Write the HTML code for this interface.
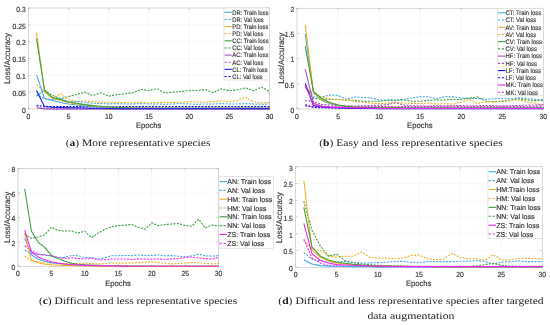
<!DOCTYPE html>
<html><head><meta charset="utf-8"><title>Loss curves</title>
<style>html,body{margin:0;padding:0;background:#fff;width:550px;height:325px;overflow:hidden}svg{display:block;position:absolute;left:0;top:0}.wrap{position:relative;width:550px;height:325px}svg.g{filter:blur(0.3px)}svg.t{filter:blur(0.15px)}</style>
</head><body>
<div class="wrap">
<svg class="g" width="550" height="325" viewBox="0 0 550 325" text-rendering="geometricPrecision" font-family='"Liberation Sans", sans-serif'>
<rect width="550" height="325" fill="#fff"/>
<style>text{stroke:#333333;stroke-width:0.16px}</style>
<line x1="68.67" y1="8.00" x2="68.67" y2="109.00" stroke="#f3f3f3" stroke-width="0.6"/>
<line x1="108.83" y1="8.00" x2="108.83" y2="109.00" stroke="#f3f3f3" stroke-width="0.6"/>
<line x1="149.00" y1="8.00" x2="149.00" y2="109.00" stroke="#f3f3f3" stroke-width="0.6"/>
<line x1="189.17" y1="8.00" x2="189.17" y2="109.00" stroke="#f3f3f3" stroke-width="0.6"/>
<line x1="229.33" y1="8.00" x2="229.33" y2="109.00" stroke="#f3f3f3" stroke-width="0.6"/>
<line x1="28.50" y1="92.17" x2="269.50" y2="92.17" stroke="#f3f3f3" stroke-width="0.6"/>
<line x1="28.50" y1="75.33" x2="269.50" y2="75.33" stroke="#f3f3f3" stroke-width="0.6"/>
<line x1="28.50" y1="58.50" x2="269.50" y2="58.50" stroke="#f3f3f3" stroke-width="0.6"/>
<line x1="28.50" y1="41.67" x2="269.50" y2="41.67" stroke="#f3f3f3" stroke-width="0.6"/>
<line x1="28.50" y1="24.83" x2="269.50" y2="24.83" stroke="#f3f3f3" stroke-width="0.6"/>
<rect x="28.50" y="8.00" width="241.00" height="101.00" fill="none" stroke="#c8c8c8" stroke-width="0.7"/>
<line x1="28.50" y1="109.00" x2="28.50" y2="106.80" stroke="#aaa" stroke-width="0.5"/>
<line x1="28.50" y1="8.00" x2="28.50" y2="10.20" stroke="#aaa" stroke-width="0.5"/>
<line x1="68.67" y1="109.00" x2="68.67" y2="106.80" stroke="#aaa" stroke-width="0.5"/>
<line x1="68.67" y1="8.00" x2="68.67" y2="10.20" stroke="#aaa" stroke-width="0.5"/>
<line x1="108.83" y1="109.00" x2="108.83" y2="106.80" stroke="#aaa" stroke-width="0.5"/>
<line x1="108.83" y1="8.00" x2="108.83" y2="10.20" stroke="#aaa" stroke-width="0.5"/>
<line x1="149.00" y1="109.00" x2="149.00" y2="106.80" stroke="#aaa" stroke-width="0.5"/>
<line x1="149.00" y1="8.00" x2="149.00" y2="10.20" stroke="#aaa" stroke-width="0.5"/>
<line x1="189.17" y1="109.00" x2="189.17" y2="106.80" stroke="#aaa" stroke-width="0.5"/>
<line x1="189.17" y1="8.00" x2="189.17" y2="10.20" stroke="#aaa" stroke-width="0.5"/>
<line x1="229.33" y1="109.00" x2="229.33" y2="106.80" stroke="#aaa" stroke-width="0.5"/>
<line x1="229.33" y1="8.00" x2="229.33" y2="10.20" stroke="#aaa" stroke-width="0.5"/>
<line x1="269.50" y1="109.00" x2="269.50" y2="106.80" stroke="#aaa" stroke-width="0.5"/>
<line x1="269.50" y1="8.00" x2="269.50" y2="10.20" stroke="#aaa" stroke-width="0.5"/>
<line x1="28.50" y1="109.00" x2="30.70" y2="109.00" stroke="#aaa" stroke-width="0.5"/>
<line x1="269.50" y1="109.00" x2="267.30" y2="109.00" stroke="#aaa" stroke-width="0.5"/>
<line x1="28.50" y1="92.17" x2="30.70" y2="92.17" stroke="#aaa" stroke-width="0.5"/>
<line x1="269.50" y1="92.17" x2="267.30" y2="92.17" stroke="#aaa" stroke-width="0.5"/>
<line x1="28.50" y1="75.33" x2="30.70" y2="75.33" stroke="#aaa" stroke-width="0.5"/>
<line x1="269.50" y1="75.33" x2="267.30" y2="75.33" stroke="#aaa" stroke-width="0.5"/>
<line x1="28.50" y1="58.50" x2="30.70" y2="58.50" stroke="#aaa" stroke-width="0.5"/>
<line x1="269.50" y1="58.50" x2="267.30" y2="58.50" stroke="#aaa" stroke-width="0.5"/>
<line x1="28.50" y1="41.67" x2="30.70" y2="41.67" stroke="#aaa" stroke-width="0.5"/>
<line x1="269.50" y1="41.67" x2="267.30" y2="41.67" stroke="#aaa" stroke-width="0.5"/>
<line x1="28.50" y1="24.83" x2="30.70" y2="24.83" stroke="#aaa" stroke-width="0.5"/>
<line x1="269.50" y1="24.83" x2="267.30" y2="24.83" stroke="#aaa" stroke-width="0.5"/>
<line x1="28.50" y1="8.00" x2="30.70" y2="8.00" stroke="#aaa" stroke-width="0.5"/>
<line x1="269.50" y1="8.00" x2="267.30" y2="8.00" stroke="#aaa" stroke-width="0.5"/>
<polyline points="36.53,96.21 44.57,90.15 52.60,95.53 60.63,98.56 68.67,96.54 76.70,94.52 84.73,92.17 92.77,95.53 100.80,92.84 108.83,96.21 116.87,94.52 124.90,93.85 132.93,92.84 140.97,89.47 149.00,90.48 157.03,88.80 165.07,93.18 173.10,92.17 181.13,91.49 189.17,90.48 197.20,90.48 205.23,89.47 213.27,92.84 221.30,88.80 229.33,90.82 237.37,89.81 245.40,87.79 253.43,90.82 261.47,87.12 269.50,91.49" fill="none" stroke="#3A9E3A" stroke-width="1.1" stroke-dasharray="2,1.3" stroke-linejoin="round"/>
<polyline points="36.53,84.42 44.57,92.17 52.60,97.89 60.63,93.85 68.67,99.57 76.70,101.59 84.73,100.92 92.77,101.59 100.80,102.27 108.83,102.94 116.87,102.27 124.90,102.60 132.93,102.94 140.97,102.27 149.00,102.94 157.03,102.60 165.07,102.27 173.10,102.60 181.13,102.27 189.17,101.59 197.20,101.93 205.23,102.27 213.27,101.59 221.30,100.92 229.33,101.59 237.37,100.58 245.40,97.22 253.43,101.59 261.47,102.94 269.50,102.27" fill="none" stroke="#EDB120" stroke-width="1.1" stroke-dasharray="2,1.3" stroke-linejoin="round"/>
<polyline points="36.53,93.85 44.57,98.90 52.60,99.57 60.63,98.56 68.67,101.59 76.70,101.59 84.73,102.27 92.77,103.28 100.80,103.61 108.83,103.95 116.87,103.61 124.90,103.95 132.93,103.95 140.97,103.61 149.00,103.95 157.03,103.95 165.07,104.29 173.10,103.95 181.13,103.61 189.17,103.95 197.20,104.29 205.23,103.95 213.27,103.95 221.30,103.61 229.33,103.95 237.37,103.95 245.40,103.61 253.43,103.95 261.47,104.29 269.50,103.95" fill="none" stroke="#3FA9E6" stroke-width="1.1" stroke-dasharray="2,1.3" stroke-linejoin="round"/>
<polyline points="36.53,105.30 44.57,106.41 52.60,106.47 60.63,106.58 68.67,106.64 76.70,106.64 84.73,106.64 92.77,106.64 100.80,106.64 108.83,106.64 116.87,106.64 124.90,106.64 132.93,106.64 140.97,106.64 149.00,106.64 157.03,106.64 165.07,106.64 173.10,106.64 181.13,106.64 189.17,106.64 197.20,106.64 205.23,106.64 213.27,106.64 221.30,106.64 229.33,106.64 237.37,106.64 245.40,106.64 253.43,106.64 261.47,106.64 269.50,106.64" fill="none" stroke="#1010F0" stroke-width="1.1" stroke-dasharray="2,1.3" stroke-linejoin="round"/>
<polyline points="36.53,106.81 44.57,108.66 52.60,108.90 60.63,108.90 68.67,108.90 76.70,108.90 84.73,108.90 92.77,108.90 100.80,108.90 108.83,108.90 116.87,108.90 124.90,108.90 132.93,108.90 140.97,108.90 149.00,108.90 157.03,108.90 165.07,108.90 173.10,108.90 181.13,108.90 189.17,108.90 197.20,108.90 205.23,108.90 213.27,108.90 221.30,108.90 229.33,108.90 237.37,108.90 245.40,108.90 253.43,108.90 261.47,108.90 269.50,108.90" fill="none" stroke="#A24FB8" stroke-width="1.1" stroke-dasharray="2,1.3" stroke-linejoin="round"/>
<polyline points="36.53,74.79 44.57,98.56 52.60,100.58 60.63,102.60 68.67,103.95 76.70,104.96 84.73,105.97 92.77,106.64 100.80,106.98 108.83,107.32 116.87,107.65 124.90,107.99 132.93,108.16 140.97,108.33 149.00,108.33 157.03,108.33 165.07,108.33 173.10,108.33 181.13,108.33 189.17,108.33 197.20,108.33 205.23,108.33 213.27,108.33 221.30,108.33 229.33,108.33 237.37,108.33 245.40,108.33 253.43,108.33 261.47,108.33 269.50,108.33" fill="none" stroke="#3FA9E6" stroke-width="1.05" stroke-linejoin="round"/>
<polyline points="36.53,32.58 44.57,91.49 52.60,98.56 60.63,100.58 68.67,102.60 76.70,103.95 84.73,104.96 92.77,105.97 100.80,106.64 108.83,106.98 116.87,107.32 124.90,107.65 132.93,107.99 140.97,108.16 149.00,108.33 157.03,108.33 165.07,108.33 173.10,108.33 181.13,108.33 189.17,108.33 197.20,108.33 205.23,108.33 213.27,108.33 221.30,108.33 229.33,108.33 237.37,108.33 245.40,108.33 253.43,108.33 261.47,108.33 269.50,108.33" fill="none" stroke="#EDB120" stroke-width="1.05" stroke-linejoin="round"/>
<polyline points="36.53,38.64 44.57,90.48 52.60,97.55 60.63,99.57 68.67,101.93 76.70,103.28 84.73,104.62 92.77,105.63 100.80,106.31 108.83,106.98 116.87,107.32 124.90,107.65 132.93,107.99 140.97,107.99 149.00,108.16 157.03,108.33 165.07,108.33 173.10,108.33 181.13,108.33 189.17,108.33 197.20,108.33 205.23,108.33 213.27,108.33 221.30,108.33 229.33,108.33 237.37,108.33 245.40,108.33 253.43,108.33 261.47,108.33 269.50,108.33" fill="none" stroke="#3A9E3A" stroke-width="1.05" stroke-linejoin="round"/>
<polyline points="36.53,107.65 44.57,108.90 52.60,108.93 60.63,108.93 68.67,108.93 76.70,108.93 84.73,108.93 92.77,108.93 100.80,108.93 108.83,108.93 116.87,108.93 124.90,108.93 132.93,108.93 140.97,108.93 149.00,108.93 157.03,108.93 165.07,108.93 173.10,108.93 181.13,108.93 189.17,108.93 197.20,108.93 205.23,108.93 213.27,108.93 221.30,108.93 229.33,108.93 237.37,108.93 245.40,108.93 253.43,108.93 261.47,108.93 269.50,108.93" fill="none" stroke="#A24FB8" stroke-width="1.05" stroke-linejoin="round"/>
<polyline points="36.53,90.48 44.57,106.81 52.60,107.32 60.63,107.48 68.67,107.65 76.70,107.82 84.73,107.99 92.77,108.16 100.80,108.33 108.83,108.50 116.87,108.66 124.90,108.66 132.93,108.66 140.97,108.66 149.00,108.66 157.03,108.66 165.07,108.66 173.10,108.66 181.13,108.66 189.17,108.66 197.20,108.66 205.23,108.66 213.27,108.66 221.30,108.66 229.33,108.66 237.37,108.66 245.40,108.66 253.43,108.66 261.47,108.66 269.50,108.66" fill="none" stroke="#1010F0" stroke-width="1.05" stroke-linejoin="round"/>
<rect x="224.00" y="8.00" width="45.50" height="72.00" fill="#fff" stroke="#d4d4d4" stroke-width="0.6"/>
<line x1="224.60" y1="12.30" x2="231.80" y2="12.30" stroke="#3FA9E6" stroke-width="1.1"/>
<line x1="224.60" y1="19.43" x2="231.80" y2="19.43" stroke="#3FA9E6" stroke-width="1.1" stroke-dasharray="2.2,1.6"/>
<line x1="224.60" y1="26.56" x2="231.80" y2="26.56" stroke="#EDB120" stroke-width="1.1"/>
<line x1="224.60" y1="33.69" x2="231.80" y2="33.69" stroke="#EDB120" stroke-width="1.1" stroke-dasharray="2.2,1.6"/>
<line x1="224.60" y1="40.82" x2="231.80" y2="40.82" stroke="#3A9E3A" stroke-width="1.1"/>
<line x1="224.60" y1="47.95" x2="231.80" y2="47.95" stroke="#3A9E3A" stroke-width="1.1" stroke-dasharray="2.2,1.6"/>
<line x1="224.60" y1="55.08" x2="231.80" y2="55.08" stroke="#A24FB8" stroke-width="1.1"/>
<line x1="224.60" y1="62.21" x2="231.80" y2="62.21" stroke="#A24FB8" stroke-width="1.1" stroke-dasharray="2.2,1.6"/>
<line x1="224.60" y1="69.34" x2="231.80" y2="69.34" stroke="#1010F0" stroke-width="1.1"/>
<line x1="224.60" y1="76.47" x2="231.80" y2="76.47" stroke="#1010F0" stroke-width="1.1" stroke-dasharray="2.2,1.6"/>
<line x1="338.05" y1="8.30" x2="338.05" y2="109.00" stroke="#f3f3f3" stroke-width="0.6"/>
<line x1="379.10" y1="8.30" x2="379.10" y2="109.00" stroke="#f3f3f3" stroke-width="0.6"/>
<line x1="420.15" y1="8.30" x2="420.15" y2="109.00" stroke="#f3f3f3" stroke-width="0.6"/>
<line x1="461.20" y1="8.30" x2="461.20" y2="109.00" stroke="#f3f3f3" stroke-width="0.6"/>
<line x1="502.25" y1="8.30" x2="502.25" y2="109.00" stroke="#f3f3f3" stroke-width="0.6"/>
<line x1="297.00" y1="83.83" x2="543.30" y2="83.83" stroke="#f3f3f3" stroke-width="0.6"/>
<line x1="297.00" y1="58.65" x2="543.30" y2="58.65" stroke="#f3f3f3" stroke-width="0.6"/>
<line x1="297.00" y1="33.47" x2="543.30" y2="33.47" stroke="#f3f3f3" stroke-width="0.6"/>
<rect x="297.00" y="8.30" width="246.30" height="100.70" fill="none" stroke="#c8c8c8" stroke-width="0.7"/>
<line x1="297.00" y1="109.00" x2="297.00" y2="106.80" stroke="#aaa" stroke-width="0.5"/>
<line x1="297.00" y1="8.30" x2="297.00" y2="10.50" stroke="#aaa" stroke-width="0.5"/>
<line x1="338.05" y1="109.00" x2="338.05" y2="106.80" stroke="#aaa" stroke-width="0.5"/>
<line x1="338.05" y1="8.30" x2="338.05" y2="10.50" stroke="#aaa" stroke-width="0.5"/>
<line x1="379.10" y1="109.00" x2="379.10" y2="106.80" stroke="#aaa" stroke-width="0.5"/>
<line x1="379.10" y1="8.30" x2="379.10" y2="10.50" stroke="#aaa" stroke-width="0.5"/>
<line x1="420.15" y1="109.00" x2="420.15" y2="106.80" stroke="#aaa" stroke-width="0.5"/>
<line x1="420.15" y1="8.30" x2="420.15" y2="10.50" stroke="#aaa" stroke-width="0.5"/>
<line x1="461.20" y1="109.00" x2="461.20" y2="106.80" stroke="#aaa" stroke-width="0.5"/>
<line x1="461.20" y1="8.30" x2="461.20" y2="10.50" stroke="#aaa" stroke-width="0.5"/>
<line x1="502.25" y1="109.00" x2="502.25" y2="106.80" stroke="#aaa" stroke-width="0.5"/>
<line x1="502.25" y1="8.30" x2="502.25" y2="10.50" stroke="#aaa" stroke-width="0.5"/>
<line x1="543.30" y1="109.00" x2="543.30" y2="106.80" stroke="#aaa" stroke-width="0.5"/>
<line x1="543.30" y1="8.30" x2="543.30" y2="10.50" stroke="#aaa" stroke-width="0.5"/>
<line x1="297.00" y1="109.00" x2="299.20" y2="109.00" stroke="#aaa" stroke-width="0.5"/>
<line x1="543.30" y1="109.00" x2="541.10" y2="109.00" stroke="#aaa" stroke-width="0.5"/>
<line x1="297.00" y1="83.83" x2="299.20" y2="83.83" stroke="#aaa" stroke-width="0.5"/>
<line x1="543.30" y1="83.83" x2="541.10" y2="83.83" stroke="#aaa" stroke-width="0.5"/>
<line x1="297.00" y1="58.65" x2="299.20" y2="58.65" stroke="#aaa" stroke-width="0.5"/>
<line x1="543.30" y1="58.65" x2="541.10" y2="58.65" stroke="#aaa" stroke-width="0.5"/>
<line x1="297.00" y1="33.47" x2="299.20" y2="33.47" stroke="#aaa" stroke-width="0.5"/>
<line x1="543.30" y1="33.47" x2="541.10" y2="33.47" stroke="#aaa" stroke-width="0.5"/>
<line x1="297.00" y1="8.30" x2="299.20" y2="8.30" stroke="#aaa" stroke-width="0.5"/>
<line x1="543.30" y1="8.30" x2="541.10" y2="8.30" stroke="#aaa" stroke-width="0.5"/>
<polyline points="305.21,85.84 313.42,96.92 321.63,97.17 329.84,95.00 338.05,95.41 346.26,99.33 354.47,96.92 362.68,97.42 370.89,97.92 379.10,99.94 387.31,99.94 395.52,100.29 403.73,99.43 411.94,97.92 420.15,96.66 428.36,96.92 436.57,98.93 444.78,96.41 452.99,96.92 461.20,97.92 469.41,98.73 477.62,98.43 485.83,99.43 494.04,98.73 502.25,98.43 510.46,98.73 518.67,97.92 526.88,98.43 535.09,99.43 543.30,99.94" fill="none" stroke="#3FA9E6" stroke-width="1.1" stroke-dasharray="2,1.3" stroke-linejoin="round"/>
<polyline points="305.21,86.34 313.42,98.43 321.63,98.93 329.84,99.43 338.05,99.43 346.26,100.29 354.47,100.29 362.68,101.25 370.89,101.25 379.10,101.25 387.31,100.29 395.52,99.94 403.73,99.94 411.94,101.25 420.15,101.25 428.36,100.29 436.57,99.94 444.78,99.94 452.99,99.43 461.20,99.43 469.41,97.92 477.62,96.92 485.83,101.25 494.04,101.80 502.25,101.25 510.46,100.29 518.67,98.73 526.88,99.94 535.09,100.64 543.30,100.29" fill="none" stroke="#3A9E3A" stroke-width="1.1" stroke-dasharray="2,1.3" stroke-linejoin="round"/>
<polyline points="305.21,87.85 313.42,93.89 321.63,96.92 329.84,98.93 338.05,99.43 346.26,99.43 354.47,101.25 362.68,102.20 370.89,103.16 379.10,103.71 387.31,103.16 395.52,102.20 403.73,103.16 411.94,103.46 420.15,103.46 428.36,103.16 436.57,104.09 444.78,103.71 452.99,104.09 461.20,102.20 469.41,99.43 477.62,103.71 485.83,101.80 494.04,102.20 502.25,100.69 510.46,99.94 518.67,99.94 526.88,101.80 535.09,103.16 543.30,105.68" fill="none" stroke="#EDB120" stroke-width="1.1" stroke-dasharray="2,1.3" stroke-linejoin="round"/>
<polyline points="305.21,100.44 313.42,101.45 321.63,104.47 329.84,104.97 338.05,105.48 346.26,105.73 354.47,105.98 362.68,105.73 370.89,105.48 379.10,105.22 387.31,104.47 395.52,102.96 403.73,104.97 411.94,105.73 420.15,105.98 428.36,105.98 436.57,105.73 444.78,105.98 452.99,105.73 461.20,105.48 469.41,105.98 477.62,105.73 485.83,105.48 494.04,105.73 502.25,105.98 510.46,105.73 518.67,105.48 526.88,105.22 535.09,104.97 543.30,104.47" fill="none" stroke="#A24FB8" stroke-width="1.1" stroke-dasharray="2,1.3" stroke-linejoin="round"/>
<polyline points="305.21,105.98 313.42,106.48 321.63,106.73 329.84,106.48 338.05,106.48 346.26,106.73 354.47,106.48 362.68,106.48 370.89,106.73 379.10,106.48 387.31,106.48 395.52,106.73 403.73,106.48 411.94,106.73 420.15,106.48 428.36,106.48 436.57,106.73 444.78,106.48 452.99,106.23 461.20,106.48 469.41,106.73 477.62,106.48 485.83,106.48 494.04,106.73 502.25,106.48 510.46,106.23 518.67,106.48 526.88,106.73 535.09,106.48 543.30,105.98" fill="none" stroke="#F020F0" stroke-width="1.1" stroke-dasharray="2,1.3" stroke-linejoin="round"/>
<polyline points="305.21,104.72 313.42,107.49 321.63,107.74 329.84,107.89 338.05,107.99 346.26,107.99 354.47,107.99 362.68,107.99 370.89,107.99 379.10,107.99 387.31,107.99 395.52,107.99 403.73,107.99 411.94,107.99 420.15,107.99 428.36,107.99 436.57,107.99 444.78,107.99 452.99,107.99 461.20,107.99 469.41,107.99 477.62,107.99 485.83,107.99 494.04,107.99 502.25,107.99 510.46,107.99 518.67,107.99 526.88,107.99 535.09,107.99 543.30,107.99" fill="none" stroke="#1010F0" stroke-width="1.1" stroke-dasharray="2,1.3" stroke-linejoin="round"/>
<polyline points="305.21,33.98 313.42,92.38 321.63,100.44 329.84,103.46 338.05,105.48 346.26,106.48 354.47,107.09 362.68,107.49 370.89,107.69 379.10,107.84 387.31,107.99 395.52,108.09 403.73,108.19 411.94,108.24 420.15,108.24 428.36,108.24 436.57,108.24 444.78,108.24 452.99,108.24 461.20,108.24 469.41,108.24 477.62,108.24 485.83,108.24 494.04,108.24 502.25,108.24 510.46,108.24 518.67,108.24 526.88,108.24 535.09,108.24 543.30,108.24" fill="none" stroke="#3FA9E6" stroke-width="1.05" stroke-linejoin="round"/>
<polyline points="305.21,24.61 313.42,91.88 321.63,99.94 329.84,102.96 338.05,104.97 346.26,106.23 354.47,106.99 362.68,107.39 370.89,107.59 379.10,107.74 387.31,107.89 395.52,107.99 403.73,108.09 411.94,108.19 420.15,108.24 428.36,108.24 436.57,108.24 444.78,108.24 452.99,108.24 461.20,108.24 469.41,108.24 477.62,108.24 485.83,108.24 494.04,108.24 502.25,108.24 510.46,108.24 518.67,108.24 526.88,108.24 535.09,108.24 543.30,108.24" fill="none" stroke="#EDB120" stroke-width="1.05" stroke-linejoin="round"/>
<polyline points="305.21,46.06 313.42,91.38 321.63,98.43 329.84,102.45 338.05,104.97 346.26,106.23 354.47,106.99 362.68,107.34 370.89,107.54 379.10,107.69 387.31,107.79 395.52,107.89 403.73,107.99 411.94,107.99 420.15,107.99 428.36,107.99 436.57,107.99 444.78,107.99 452.99,107.99 461.20,107.99 469.41,107.99 477.62,107.99 485.83,107.99 494.04,107.99 502.25,107.99 510.46,107.99 518.67,107.99 526.88,107.99 535.09,107.99 543.30,107.99" fill="none" stroke="#3A9E3A" stroke-width="1.05" stroke-linejoin="round"/>
<polyline points="305.21,69.22 313.42,103.21 321.63,105.98 329.84,106.99 338.05,107.49 346.26,107.74 354.47,107.99 362.68,108.09 370.89,108.24 379.10,108.40 387.31,108.50 395.52,108.50 403.73,108.50 411.94,108.50 420.15,108.50 428.36,108.50 436.57,108.50 444.78,108.50 452.99,108.50 461.20,108.50 469.41,108.50 477.62,108.50 485.83,108.50 494.04,108.50 502.25,108.50 510.46,108.50 518.67,108.50 526.88,108.50 535.09,108.50 543.30,108.50" fill="none" stroke="#A24FB8" stroke-width="1.05" stroke-linejoin="round"/>
<polyline points="305.21,83.32 313.42,105.48 321.63,106.99 329.84,107.49 338.05,107.99 346.26,108.24 354.47,108.40 362.68,108.50 370.89,108.60 379.10,108.70 387.31,108.75 395.52,108.75 403.73,108.75 411.94,108.75 420.15,108.75 428.36,108.75 436.57,108.75 444.78,108.75 452.99,108.75 461.20,108.75 469.41,108.75 477.62,108.75 485.83,108.75 494.04,108.75 502.25,108.75 510.46,108.75 518.67,108.75 526.88,108.75 535.09,108.75 543.30,108.75" fill="none" stroke="#1010F0" stroke-width="1.05" stroke-linejoin="round"/>
<polyline points="305.21,85.34 313.42,104.72 321.63,106.73 329.84,107.24 338.05,107.49 346.26,107.74 354.47,107.99 362.68,108.09 370.89,108.24 379.10,108.40 387.31,108.50 395.52,108.50 403.73,108.50 411.94,108.50 420.15,108.50 428.36,108.50 436.57,108.50 444.78,108.50 452.99,108.50 461.20,108.50 469.41,108.50 477.62,108.50 485.83,108.50 494.04,108.50 502.25,108.50 510.46,108.50 518.67,108.50 526.88,108.50 535.09,108.50 543.30,108.50" fill="none" stroke="#F020F0" stroke-width="1.05" stroke-linejoin="round"/>
<rect x="497.50" y="8.30" width="45.80" height="86.80" fill="#fff" stroke="#d4d4d4" stroke-width="0.6"/>
<line x1="498.00" y1="12.80" x2="505.40" y2="12.80" stroke="#3FA9E6" stroke-width="1.1"/>
<line x1="498.00" y1="20.02" x2="505.40" y2="20.02" stroke="#3FA9E6" stroke-width="1.1" stroke-dasharray="2.2,1.6"/>
<line x1="498.00" y1="27.24" x2="505.40" y2="27.24" stroke="#EDB120" stroke-width="1.1"/>
<line x1="498.00" y1="34.46" x2="505.40" y2="34.46" stroke="#EDB120" stroke-width="1.1" stroke-dasharray="2.2,1.6"/>
<line x1="498.00" y1="41.68" x2="505.40" y2="41.68" stroke="#3A9E3A" stroke-width="1.1"/>
<line x1="498.00" y1="48.90" x2="505.40" y2="48.90" stroke="#3A9E3A" stroke-width="1.1" stroke-dasharray="2.2,1.6"/>
<line x1="498.00" y1="56.12" x2="505.40" y2="56.12" stroke="#A24FB8" stroke-width="1.1"/>
<line x1="498.00" y1="63.34" x2="505.40" y2="63.34" stroke="#A24FB8" stroke-width="1.1" stroke-dasharray="2.2,1.6"/>
<line x1="498.00" y1="70.56" x2="505.40" y2="70.56" stroke="#1010F0" stroke-width="1.1"/>
<line x1="498.00" y1="77.78" x2="505.40" y2="77.78" stroke="#1010F0" stroke-width="1.1" stroke-dasharray="2.2,1.6"/>
<line x1="498.00" y1="85.00" x2="505.40" y2="85.00" stroke="#F020F0" stroke-width="1.1"/>
<line x1="498.00" y1="92.22" x2="505.40" y2="92.22" stroke="#F020F0" stroke-width="1.1" stroke-dasharray="2.2,1.6"/>
<line x1="51.43" y1="168.50" x2="51.43" y2="266.60" stroke="#f3f3f3" stroke-width="0.6"/>
<line x1="84.87" y1="168.50" x2="84.87" y2="266.60" stroke="#f3f3f3" stroke-width="0.6"/>
<line x1="118.30" y1="168.50" x2="118.30" y2="266.60" stroke="#f3f3f3" stroke-width="0.6"/>
<line x1="151.73" y1="168.50" x2="151.73" y2="266.60" stroke="#f3f3f3" stroke-width="0.6"/>
<line x1="185.17" y1="168.50" x2="185.17" y2="266.60" stroke="#f3f3f3" stroke-width="0.6"/>
<line x1="18.00" y1="242.08" x2="218.60" y2="242.08" stroke="#f3f3f3" stroke-width="0.6"/>
<line x1="18.00" y1="217.55" x2="218.60" y2="217.55" stroke="#f3f3f3" stroke-width="0.6"/>
<line x1="18.00" y1="193.03" x2="218.60" y2="193.03" stroke="#f3f3f3" stroke-width="0.6"/>
<rect x="18.00" y="168.50" width="200.60" height="98.10" fill="none" stroke="#c8c8c8" stroke-width="0.7"/>
<line x1="18.00" y1="266.60" x2="18.00" y2="264.40" stroke="#aaa" stroke-width="0.5"/>
<line x1="18.00" y1="168.50" x2="18.00" y2="170.70" stroke="#aaa" stroke-width="0.5"/>
<line x1="51.43" y1="266.60" x2="51.43" y2="264.40" stroke="#aaa" stroke-width="0.5"/>
<line x1="51.43" y1="168.50" x2="51.43" y2="170.70" stroke="#aaa" stroke-width="0.5"/>
<line x1="84.87" y1="266.60" x2="84.87" y2="264.40" stroke="#aaa" stroke-width="0.5"/>
<line x1="84.87" y1="168.50" x2="84.87" y2="170.70" stroke="#aaa" stroke-width="0.5"/>
<line x1="118.30" y1="266.60" x2="118.30" y2="264.40" stroke="#aaa" stroke-width="0.5"/>
<line x1="118.30" y1="168.50" x2="118.30" y2="170.70" stroke="#aaa" stroke-width="0.5"/>
<line x1="151.73" y1="266.60" x2="151.73" y2="264.40" stroke="#aaa" stroke-width="0.5"/>
<line x1="151.73" y1="168.50" x2="151.73" y2="170.70" stroke="#aaa" stroke-width="0.5"/>
<line x1="185.17" y1="266.60" x2="185.17" y2="264.40" stroke="#aaa" stroke-width="0.5"/>
<line x1="185.17" y1="168.50" x2="185.17" y2="170.70" stroke="#aaa" stroke-width="0.5"/>
<line x1="218.60" y1="266.60" x2="218.60" y2="264.40" stroke="#aaa" stroke-width="0.5"/>
<line x1="218.60" y1="168.50" x2="218.60" y2="170.70" stroke="#aaa" stroke-width="0.5"/>
<line x1="18.00" y1="266.60" x2="20.20" y2="266.60" stroke="#aaa" stroke-width="0.5"/>
<line x1="218.60" y1="266.60" x2="216.40" y2="266.60" stroke="#aaa" stroke-width="0.5"/>
<line x1="18.00" y1="242.08" x2="20.20" y2="242.08" stroke="#aaa" stroke-width="0.5"/>
<line x1="218.60" y1="242.08" x2="216.40" y2="242.08" stroke="#aaa" stroke-width="0.5"/>
<line x1="18.00" y1="217.55" x2="20.20" y2="217.55" stroke="#aaa" stroke-width="0.5"/>
<line x1="218.60" y1="217.55" x2="216.40" y2="217.55" stroke="#aaa" stroke-width="0.5"/>
<line x1="18.00" y1="193.03" x2="20.20" y2="193.03" stroke="#aaa" stroke-width="0.5"/>
<line x1="218.60" y1="193.03" x2="216.40" y2="193.03" stroke="#aaa" stroke-width="0.5"/>
<line x1="18.00" y1="168.50" x2="20.20" y2="168.50" stroke="#aaa" stroke-width="0.5"/>
<line x1="218.60" y1="168.50" x2="216.40" y2="168.50" stroke="#aaa" stroke-width="0.5"/>
<polyline points="24.69,233.98 31.37,238.40 38.06,237.05 44.75,234.72 51.43,227.36 58.12,230.30 64.81,231.04 71.49,230.92 78.18,232.88 84.87,231.28 91.55,237.78 98.24,233.12 104.93,229.32 111.61,226.75 118.30,225.64 124.99,225.15 131.67,224.54 138.36,227.24 145.05,229.32 151.73,222.82 158.42,225.64 165.11,224.54 171.79,224.05 178.48,223.56 185.17,225.64 191.85,226.13 198.54,219.14 205.23,227.97 211.91,225.15 218.60,226.13" fill="none" stroke="#3A9E3A" stroke-width="1.1" stroke-dasharray="2,1.3" stroke-linejoin="round"/>
<polyline points="24.69,250.17 31.37,253.23 38.06,254.58 44.75,254.58 51.43,256.18 58.12,258.02 64.81,257.40 71.49,255.44 78.18,255.69 84.87,257.65 91.55,257.65 98.24,259.24 104.93,257.65 111.61,255.69 118.30,255.69 124.99,255.44 131.67,255.69 138.36,254.95 145.05,255.56 151.73,255.56 158.42,254.95 165.11,255.81 171.79,255.56 178.48,256.18 185.17,256.79 191.85,255.81 198.54,254.34 205.23,255.81 211.91,256.18 218.60,255.56" fill="none" stroke="#3FA9E6" stroke-width="1.1" stroke-dasharray="2,1.3" stroke-linejoin="round"/>
<polyline points="24.69,245.75 31.37,251.03 38.06,253.85 44.75,255.20 51.43,255.81 58.12,257.40 64.81,258.51 71.49,257.77 78.18,258.51 84.87,259.00 91.55,258.26 98.24,259.73 104.93,259.73 111.61,259.00 118.30,259.00 124.99,259.00 131.67,259.49 138.36,259.00 145.05,259.00 151.73,259.24 158.42,259.00 165.11,259.24 171.79,259.00 178.48,258.63 185.17,257.40 191.85,257.04 198.54,258.02 205.23,258.63 211.91,259.00 218.60,257.40" fill="none" stroke="#F020F0" stroke-width="1.1" stroke-dasharray="2,1.3" stroke-linejoin="round"/>
<polyline points="24.69,256.05 31.37,261.20 38.06,261.94 44.75,262.92 51.43,263.17 58.12,262.92 64.81,263.53 71.49,263.90 78.18,263.53 84.87,263.17 91.55,263.53 98.24,263.90 104.93,263.53 111.61,262.92 118.30,263.17 124.99,262.92 131.67,263.17 138.36,262.68 145.05,262.31 151.73,261.70 158.42,262.68 165.11,263.17 171.79,263.90 178.48,263.53 185.17,263.17 191.85,262.31 198.54,262.68 205.23,263.53 211.91,263.90 218.60,263.53" fill="none" stroke="#EDB120" stroke-width="1.1" stroke-dasharray="2,1.3" stroke-linejoin="round"/>
<polyline points="24.69,188.73 31.37,231.04 38.06,242.08 44.75,247.35 51.43,255.44 58.12,258.63 64.81,261.20 71.49,263.17 78.18,264.15 84.87,264.76 91.55,265.13 98.24,265.37 104.93,265.62 111.61,265.74 118.30,265.86 124.99,265.99 131.67,266.05 138.36,266.11 145.05,266.17 151.73,266.23 158.42,266.23 165.11,266.23 171.79,266.23 178.48,266.23 185.17,266.23 191.85,266.23 198.54,266.23 205.23,266.23 211.91,266.23 218.60,266.23" fill="none" stroke="#3A9E3A" stroke-width="1.05" stroke-linejoin="round"/>
<polyline points="24.69,238.40 31.37,254.71 38.06,259.24 44.75,261.33 51.43,262.68 58.12,263.53 64.81,264.15 71.49,264.76 78.18,265.13 84.87,265.37 91.55,265.56 98.24,265.74 104.93,265.86 111.61,265.99 118.30,266.05 124.99,266.11 131.67,266.17 138.36,266.23 145.05,266.23 151.73,266.23 158.42,266.23 165.11,266.23 171.79,266.23 178.48,266.23 185.17,266.23 191.85,266.23 198.54,266.23 205.23,266.23 211.91,266.23 218.60,266.23" fill="none" stroke="#3FA9E6" stroke-width="1.05" stroke-linejoin="round"/>
<polyline points="24.69,233.00 31.37,259.86 38.06,262.80 44.75,264.15 51.43,264.76 58.12,265.13 64.81,265.37 71.49,265.62 78.18,265.74 84.87,265.86 91.55,265.99 98.24,266.11 104.93,266.17 111.61,266.23 118.30,266.29 124.99,266.35 131.67,266.35 138.36,266.35 145.05,266.35 151.73,266.35 158.42,266.35 165.11,266.35 171.79,266.35 178.48,266.35 185.17,266.35 191.85,266.35 198.54,266.35 205.23,266.35 211.91,266.35 218.60,266.35" fill="none" stroke="#EDB120" stroke-width="1.05" stroke-linejoin="round"/>
<polyline points="24.69,230.06 31.37,251.76 38.06,256.91 44.75,259.86 51.43,261.70 58.12,263.04 64.81,263.90 71.49,264.52 78.18,265.01 84.87,265.37 91.55,265.62 98.24,265.74 104.93,265.86 111.61,265.99 118.30,266.05 124.99,266.11 131.67,266.17 138.36,266.23 145.05,266.23 151.73,266.23 158.42,266.23 165.11,266.23 171.79,266.23 178.48,266.23 185.17,266.23 191.85,266.23 198.54,266.23 205.23,266.23 211.91,266.23 218.60,266.23" fill="none" stroke="#F020F0" stroke-width="1.05" stroke-linejoin="round"/>
<rect x="219.00" y="176.50" width="54.50" height="72.00" fill="#fff" stroke="#d4d4d4" stroke-width="0.6"/>
<line x1="219.60" y1="181.60" x2="227.00" y2="181.60" stroke="#3FA9E6" stroke-width="1.1"/>
<line x1="219.60" y1="190.40" x2="227.00" y2="190.40" stroke="#3FA9E6" stroke-width="1.1" stroke-dasharray="2.2,1.6"/>
<line x1="219.60" y1="199.20" x2="227.00" y2="199.20" stroke="#EDB120" stroke-width="1.1"/>
<line x1="219.60" y1="208.00" x2="227.00" y2="208.00" stroke="#EDB120" stroke-width="1.1" stroke-dasharray="2.2,1.6"/>
<line x1="219.60" y1="216.80" x2="227.00" y2="216.80" stroke="#3A9E3A" stroke-width="1.1"/>
<line x1="219.60" y1="225.60" x2="227.00" y2="225.60" stroke="#3A9E3A" stroke-width="1.1" stroke-dasharray="2.2,1.6"/>
<line x1="219.60" y1="234.40" x2="227.00" y2="234.40" stroke="#F020F0" stroke-width="1.1"/>
<line x1="219.60" y1="243.20" x2="227.00" y2="243.20" stroke="#F020F0" stroke-width="1.1" stroke-dasharray="2.2,1.6"/>
<line x1="336.72" y1="166.80" x2="336.72" y2="267.30" stroke="#f3f3f3" stroke-width="0.6"/>
<line x1="377.83" y1="166.80" x2="377.83" y2="267.30" stroke="#f3f3f3" stroke-width="0.6"/>
<line x1="418.95" y1="166.80" x2="418.95" y2="267.30" stroke="#f3f3f3" stroke-width="0.6"/>
<line x1="460.07" y1="166.80" x2="460.07" y2="267.30" stroke="#f3f3f3" stroke-width="0.6"/>
<line x1="501.18" y1="166.80" x2="501.18" y2="267.30" stroke="#f3f3f3" stroke-width="0.6"/>
<line x1="295.60" y1="250.55" x2="542.30" y2="250.55" stroke="#f3f3f3" stroke-width="0.6"/>
<line x1="295.60" y1="233.80" x2="542.30" y2="233.80" stroke="#f3f3f3" stroke-width="0.6"/>
<line x1="295.60" y1="217.05" x2="542.30" y2="217.05" stroke="#f3f3f3" stroke-width="0.6"/>
<line x1="295.60" y1="200.30" x2="542.30" y2="200.30" stroke="#f3f3f3" stroke-width="0.6"/>
<line x1="295.60" y1="183.55" x2="542.30" y2="183.55" stroke="#f3f3f3" stroke-width="0.6"/>
<rect x="295.60" y="166.80" width="246.70" height="100.50" fill="none" stroke="#c8c8c8" stroke-width="0.7"/>
<line x1="295.60" y1="267.30" x2="295.60" y2="265.10" stroke="#aaa" stroke-width="0.5"/>
<line x1="295.60" y1="166.80" x2="295.60" y2="169.00" stroke="#aaa" stroke-width="0.5"/>
<line x1="336.72" y1="267.30" x2="336.72" y2="265.10" stroke="#aaa" stroke-width="0.5"/>
<line x1="336.72" y1="166.80" x2="336.72" y2="169.00" stroke="#aaa" stroke-width="0.5"/>
<line x1="377.83" y1="267.30" x2="377.83" y2="265.10" stroke="#aaa" stroke-width="0.5"/>
<line x1="377.83" y1="166.80" x2="377.83" y2="169.00" stroke="#aaa" stroke-width="0.5"/>
<line x1="418.95" y1="267.30" x2="418.95" y2="265.10" stroke="#aaa" stroke-width="0.5"/>
<line x1="418.95" y1="166.80" x2="418.95" y2="169.00" stroke="#aaa" stroke-width="0.5"/>
<line x1="460.07" y1="267.30" x2="460.07" y2="265.10" stroke="#aaa" stroke-width="0.5"/>
<line x1="460.07" y1="166.80" x2="460.07" y2="169.00" stroke="#aaa" stroke-width="0.5"/>
<line x1="501.18" y1="267.30" x2="501.18" y2="265.10" stroke="#aaa" stroke-width="0.5"/>
<line x1="501.18" y1="166.80" x2="501.18" y2="169.00" stroke="#aaa" stroke-width="0.5"/>
<line x1="542.30" y1="267.30" x2="542.30" y2="265.10" stroke="#aaa" stroke-width="0.5"/>
<line x1="542.30" y1="166.80" x2="542.30" y2="169.00" stroke="#aaa" stroke-width="0.5"/>
<line x1="295.60" y1="267.30" x2="297.80" y2="267.30" stroke="#aaa" stroke-width="0.5"/>
<line x1="542.30" y1="267.30" x2="540.10" y2="267.30" stroke="#aaa" stroke-width="0.5"/>
<line x1="295.60" y1="250.55" x2="297.80" y2="250.55" stroke="#aaa" stroke-width="0.5"/>
<line x1="542.30" y1="250.55" x2="540.10" y2="250.55" stroke="#aaa" stroke-width="0.5"/>
<line x1="295.60" y1="233.80" x2="297.80" y2="233.80" stroke="#aaa" stroke-width="0.5"/>
<line x1="542.30" y1="233.80" x2="540.10" y2="233.80" stroke="#aaa" stroke-width="0.5"/>
<line x1="295.60" y1="217.05" x2="297.80" y2="217.05" stroke="#aaa" stroke-width="0.5"/>
<line x1="542.30" y1="217.05" x2="540.10" y2="217.05" stroke="#aaa" stroke-width="0.5"/>
<line x1="295.60" y1="200.30" x2="297.80" y2="200.30" stroke="#aaa" stroke-width="0.5"/>
<line x1="542.30" y1="200.30" x2="540.10" y2="200.30" stroke="#aaa" stroke-width="0.5"/>
<line x1="295.60" y1="183.55" x2="297.80" y2="183.55" stroke="#aaa" stroke-width="0.5"/>
<line x1="542.30" y1="183.55" x2="540.10" y2="183.55" stroke="#aaa" stroke-width="0.5"/>
<line x1="295.60" y1="166.80" x2="297.80" y2="166.80" stroke="#aaa" stroke-width="0.5"/>
<line x1="542.30" y1="166.80" x2="540.10" y2="166.80" stroke="#aaa" stroke-width="0.5"/>
<polyline points="303.82,240.50 312.05,248.88 320.27,250.55 328.49,255.58 336.72,257.25 344.94,256.25 353.16,256.25 361.39,251.89 369.61,257.25 377.83,258.25 386.06,258.25 394.28,258.93 402.50,258.25 410.73,255.58 418.95,254.91 427.17,258.93 435.40,259.60 443.62,259.26 451.84,253.23 460.07,257.25 468.29,258.93 476.51,258.59 484.74,260.60 492.96,254.57 501.18,259.93 509.41,259.93 517.63,258.59 525.85,258.25 534.08,258.59 542.30,258.93" fill="none" stroke="#EDB120" stroke-width="1.1" stroke-dasharray="2,1.3" stroke-linejoin="round"/>
<polyline points="303.82,252.56 312.05,259.26 320.27,260.94 328.49,261.94 336.72,261.94 344.94,261.61 353.16,262.61 361.39,262.94 369.61,262.94 377.83,262.61 386.06,262.28 394.28,261.61 402.50,261.27 410.73,262.28 418.95,262.61 427.17,261.61 435.40,261.61 443.62,261.61 451.84,261.61 460.07,261.27 468.29,261.27 476.51,260.60 484.74,261.61 492.96,263.95 501.18,262.28 509.41,261.61 517.63,260.94 525.85,261.61 534.08,261.61 542.30,261.61" fill="none" stroke="#3FA9E6" stroke-width="1.1" stroke-dasharray="2,1.3" stroke-linejoin="round"/>
<polyline points="303.82,201.31 312.05,230.45 320.27,245.86 328.49,256.25 336.72,254.24 344.94,260.60 353.16,262.61 361.39,263.95 369.61,264.62 377.83,265.29 386.06,265.62 394.28,265.79 402.50,265.96 410.73,266.13 418.95,266.30 427.17,266.30 435.40,266.30 443.62,266.30 451.84,266.30 460.07,266.30 468.29,266.30 476.51,265.96 484.74,264.62 492.96,263.28 501.18,265.29 509.41,265.96 517.63,266.30 525.85,266.30 534.08,266.30 542.30,266.30" fill="none" stroke="#3A9E3A" stroke-width="1.1" stroke-dasharray="2,1.3" stroke-linejoin="round"/>
<polyline points="303.82,239.16 312.05,258.25 320.27,262.94 328.49,265.62 336.72,265.96 344.94,266.13 353.16,266.30 361.39,266.30 369.61,266.46 377.83,266.63 386.06,266.63 394.28,266.63 402.50,266.63 410.73,266.63 418.95,266.63 427.17,266.63 435.40,266.63 443.62,266.63 451.84,266.63 460.07,266.63 468.29,266.63 476.51,266.63 484.74,266.63 492.96,266.63 501.18,266.63 509.41,266.63 517.63,266.63 525.85,266.63 534.08,266.63 542.30,266.63" fill="none" stroke="#F020F0" stroke-width="1.1" stroke-dasharray="2,1.3" stroke-linejoin="round"/>
<polyline points="303.82,259.93 312.05,263.95 320.27,265.62 328.49,266.13 336.72,266.30 344.94,266.46 353.16,266.63 361.39,266.70 369.61,266.80 377.83,266.90 386.06,266.97 394.28,266.97 402.50,266.97 410.73,266.97 418.95,266.97 427.17,266.97 435.40,266.97 443.62,266.97 451.84,266.97 460.07,266.97 468.29,266.97 476.51,266.97 484.74,266.97 492.96,266.97 501.18,266.97 509.41,266.97 517.63,266.97 525.85,266.97 534.08,266.97 542.30,266.97" fill="none" stroke="#3FA9E6" stroke-width="1.05" stroke-linejoin="round"/>
<polyline points="303.82,180.54 312.05,250.22 320.27,257.25 328.49,260.94 336.72,262.94 344.94,263.95 353.16,264.62 361.39,265.29 369.61,265.62 377.83,265.96 386.06,266.13 394.28,266.30 402.50,266.36 410.73,266.43 418.95,266.50 427.17,266.56 435.40,266.63 443.62,266.63 451.84,266.63 460.07,266.63 468.29,266.63 476.51,266.63 484.74,266.63 492.96,266.63 501.18,266.63 509.41,266.63 517.63,266.63 525.85,266.63 534.08,266.63 542.30,266.63" fill="none" stroke="#EDB120" stroke-width="1.05" stroke-linejoin="round"/>
<polyline points="303.82,207.34 312.05,247.20 320.27,255.91 328.49,259.93 336.72,261.94 344.94,263.28 353.16,264.29 361.39,264.95 369.61,265.62 377.83,265.96 386.06,266.13 394.28,266.30 402.50,266.36 410.73,266.43 418.95,266.50 427.17,266.56 435.40,266.63 443.62,266.63 451.84,266.63 460.07,266.63 468.29,266.63 476.51,266.63 484.74,266.63 492.96,266.63 501.18,266.63 509.41,266.63 517.63,266.63 525.85,266.63 534.08,266.63 542.30,266.63" fill="none" stroke="#3A9E3A" stroke-width="1.05" stroke-linejoin="round"/>
<polyline points="303.82,223.42 312.05,253.90 320.27,260.26 328.49,262.94 336.72,264.62 344.94,264.95 353.16,265.29 361.39,265.62 369.61,265.96 377.83,266.13 386.06,266.30 394.28,266.46 402.50,266.63 410.73,266.63 418.95,266.63 427.17,266.63 435.40,266.63 443.62,266.63 451.84,266.63 460.07,266.63 468.29,266.63 476.51,266.63 484.74,266.63 492.96,266.63 501.18,266.63 509.41,266.63 517.63,266.63 525.85,266.63 534.08,266.63 542.30,266.63" fill="none" stroke="#F020F0" stroke-width="1.05" stroke-linejoin="round"/>
<rect x="488.00" y="166.80" width="54.30" height="71.50" fill="#fff" stroke="#d4d4d4" stroke-width="0.6"/>
<line x1="488.60" y1="171.70" x2="496.00" y2="171.70" stroke="#3FA9E6" stroke-width="1.1"/>
<line x1="488.60" y1="180.61" x2="496.00" y2="180.61" stroke="#3FA9E6" stroke-width="1.1" stroke-dasharray="2.2,1.6"/>
<line x1="488.60" y1="189.52" x2="496.00" y2="189.52" stroke="#EDB120" stroke-width="1.1"/>
<line x1="488.60" y1="198.43" x2="496.00" y2="198.43" stroke="#EDB120" stroke-width="1.1" stroke-dasharray="2.2,1.6"/>
<line x1="488.60" y1="207.34" x2="496.00" y2="207.34" stroke="#3A9E3A" stroke-width="1.1"/>
<line x1="488.60" y1="216.25" x2="496.00" y2="216.25" stroke="#3A9E3A" stroke-width="1.1" stroke-dasharray="2.2,1.6"/>
<line x1="488.60" y1="225.16" x2="496.00" y2="225.16" stroke="#F020F0" stroke-width="1.1"/>
<line x1="488.60" y1="234.07" x2="496.00" y2="234.07" stroke="#F020F0" stroke-width="1.1" stroke-dasharray="2.2,1.6"/>
</svg>
<svg class="t" width="550" height="325" viewBox="0 0 550 325" text-rendering="geometricPrecision" font-family='"Liberation Sans", sans-serif'>
<text x="26.61" y="118.60" font-size="7.4" fill="#333333" textLength="3.78" lengthAdjust="spacingAndGlyphs">0</text>
<text x="66.78" y="118.60" font-size="7.4" fill="#333333" textLength="3.78" lengthAdjust="spacingAndGlyphs">5</text>
<text x="105.05" y="118.60" font-size="7.4" fill="#333333" textLength="7.56" lengthAdjust="spacingAndGlyphs">10</text>
<text x="145.22" y="118.60" font-size="7.4" fill="#333333" textLength="7.56" lengthAdjust="spacingAndGlyphs">15</text>
<text x="185.39" y="118.60" font-size="7.4" fill="#333333" textLength="7.56" lengthAdjust="spacingAndGlyphs">20</text>
<text x="225.55" y="118.60" font-size="7.4" fill="#333333" textLength="7.56" lengthAdjust="spacingAndGlyphs">25</text>
<text x="265.72" y="118.60" font-size="7.4" fill="#333333" textLength="7.56" lengthAdjust="spacingAndGlyphs">30</text>
<text x="22.02" y="112.70" font-size="7.4" fill="#333333" textLength="3.78" lengthAdjust="spacingAndGlyphs">0</text>
<text x="12.57" y="95.87" font-size="7.4" fill="#333333" textLength="13.23" lengthAdjust="spacingAndGlyphs">0.05</text>
<text x="16.35" y="79.03" font-size="7.4" fill="#333333" textLength="9.45" lengthAdjust="spacingAndGlyphs">0.1</text>
<text x="12.57" y="62.20" font-size="7.4" fill="#333333" textLength="13.23" lengthAdjust="spacingAndGlyphs">0.15</text>
<text x="16.35" y="45.37" font-size="7.4" fill="#333333" textLength="9.45" lengthAdjust="spacingAndGlyphs">0.2</text>
<text x="12.57" y="28.53" font-size="7.4" fill="#333333" textLength="13.23" lengthAdjust="spacingAndGlyphs">0.25</text>
<text x="16.35" y="11.70" font-size="7.4" fill="#333333" textLength="9.45" lengthAdjust="spacingAndGlyphs">0.3</text>
<text x="135.95" y="128.10" font-size="7.8" fill="#333333" textLength="25.5" lengthAdjust="spacingAndGlyphs">Epochs</text>
<text transform="translate(9.80,58.55) rotate(-90)" x="-25.5" y="0" font-size="8.2" fill="#333333" textLength="51" lengthAdjust="spacingAndGlyphs">Loss/Accuracy</text>
<text x="232.30" y="14.63" font-size="6.47" fill="#333333" textLength="36.29" lengthAdjust="spacingAndGlyphs">DR: Train loss</text>
<text x="232.30" y="21.76" font-size="6.47" fill="#333333" textLength="31.37" lengthAdjust="spacingAndGlyphs">DR: Val loss</text>
<text x="232.30" y="28.89" font-size="6.47" fill="#333333" textLength="35.98" lengthAdjust="spacingAndGlyphs">PD: Train loss</text>
<text x="232.30" y="36.02" font-size="6.47" fill="#333333" textLength="31.05" lengthAdjust="spacingAndGlyphs">PD: Val loss</text>
<text x="232.30" y="43.15" font-size="6.47" fill="#333333" textLength="36.29" lengthAdjust="spacingAndGlyphs">CC: Train loss</text>
<text x="232.30" y="50.28" font-size="6.47" fill="#333333" textLength="31.37" lengthAdjust="spacingAndGlyphs">CC: Val loss</text>
<text x="232.30" y="57.41" font-size="6.47" fill="#333333" textLength="35.98" lengthAdjust="spacingAndGlyphs">AC: Train loss</text>
<text x="232.30" y="64.54" font-size="6.47" fill="#333333" textLength="31.05" lengthAdjust="spacingAndGlyphs">AC: Val loss</text>
<text x="232.30" y="71.67" font-size="6.47" fill="#333333" textLength="35.33" lengthAdjust="spacingAndGlyphs">CL: Train loss</text>
<text x="232.30" y="78.80" font-size="6.47" fill="#333333" textLength="30.41" lengthAdjust="spacingAndGlyphs">CL: Val loss</text>
<text x="295.11" y="118.60" font-size="7.4" fill="#333333" textLength="3.78" lengthAdjust="spacingAndGlyphs">0</text>
<text x="336.16" y="118.60" font-size="7.4" fill="#333333" textLength="3.78" lengthAdjust="spacingAndGlyphs">5</text>
<text x="375.32" y="118.60" font-size="7.4" fill="#333333" textLength="7.56" lengthAdjust="spacingAndGlyphs">10</text>
<text x="416.37" y="118.60" font-size="7.4" fill="#333333" textLength="7.56" lengthAdjust="spacingAndGlyphs">15</text>
<text x="457.42" y="118.60" font-size="7.4" fill="#333333" textLength="7.56" lengthAdjust="spacingAndGlyphs">20</text>
<text x="498.47" y="118.60" font-size="7.4" fill="#333333" textLength="7.56" lengthAdjust="spacingAndGlyphs">25</text>
<text x="539.52" y="118.60" font-size="7.4" fill="#333333" textLength="7.56" lengthAdjust="spacingAndGlyphs">30</text>
<text x="290.52" y="112.70" font-size="7.4" fill="#333333" textLength="3.78" lengthAdjust="spacingAndGlyphs">0</text>
<text x="284.85" y="87.53" font-size="7.4" fill="#333333" textLength="9.45" lengthAdjust="spacingAndGlyphs">0.5</text>
<text x="290.52" y="62.35" font-size="7.4" fill="#333333" textLength="3.78" lengthAdjust="spacingAndGlyphs">1</text>
<text x="284.85" y="37.17" font-size="7.4" fill="#333333" textLength="9.45" lengthAdjust="spacingAndGlyphs">1.5</text>
<text x="290.52" y="12.00" font-size="7.4" fill="#333333" textLength="3.78" lengthAdjust="spacingAndGlyphs">2</text>
<text x="407.10" y="128.10" font-size="7.8" fill="#333333" textLength="25.5" lengthAdjust="spacingAndGlyphs">Epochs</text>
<text transform="translate(284.00,58.30) rotate(-90)" x="-25.5" y="0" font-size="8.2" fill="#333333" textLength="51" lengthAdjust="spacingAndGlyphs">Loss/Accuracy</text>
<text x="505.60" y="15.17" font-size="6.59" fill="#333333" textLength="35.62" lengthAdjust="spacingAndGlyphs">CT: Train loss</text>
<text x="505.60" y="22.39" font-size="6.59" fill="#333333" textLength="30.61" lengthAdjust="spacingAndGlyphs">CT: Val loss</text>
<text x="505.60" y="29.61" font-size="6.59" fill="#333333" textLength="35.62" lengthAdjust="spacingAndGlyphs">AV: Train loss</text>
<text x="505.60" y="36.83" font-size="6.59" fill="#333333" textLength="30.61" lengthAdjust="spacingAndGlyphs">AV: Val loss</text>
<text x="505.60" y="44.05" font-size="6.59" fill="#333333" textLength="36.38" lengthAdjust="spacingAndGlyphs">CV: Train loss</text>
<text x="505.60" y="51.27" font-size="6.59" fill="#333333" textLength="31.37" lengthAdjust="spacingAndGlyphs">CV: Val loss</text>
<text x="505.60" y="58.49" font-size="6.59" fill="#333333" textLength="36.27" lengthAdjust="spacingAndGlyphs">HF: Train loss</text>
<text x="505.60" y="65.71" font-size="6.59" fill="#333333" textLength="31.26" lengthAdjust="spacingAndGlyphs">HF: Val loss</text>
<text x="505.60" y="72.93" font-size="6.59" fill="#333333" textLength="35.29" lengthAdjust="spacingAndGlyphs">LF: Train loss</text>
<text x="505.60" y="80.15" font-size="6.59" fill="#333333" textLength="30.28" lengthAdjust="spacingAndGlyphs">LF: Val loss</text>
<text x="505.60" y="87.37" font-size="6.59" fill="#333333" textLength="37.25" lengthAdjust="spacingAndGlyphs">MK: Train loss</text>
<text x="505.60" y="94.59" font-size="6.59" fill="#333333" textLength="32.24" lengthAdjust="spacingAndGlyphs">MK: Val loss</text>
<text x="16.11" y="276.20" font-size="7.4" fill="#333333" textLength="3.78" lengthAdjust="spacingAndGlyphs">0</text>
<text x="49.54" y="276.20" font-size="7.4" fill="#333333" textLength="3.78" lengthAdjust="spacingAndGlyphs">5</text>
<text x="81.09" y="276.20" font-size="7.4" fill="#333333" textLength="7.56" lengthAdjust="spacingAndGlyphs">10</text>
<text x="114.52" y="276.20" font-size="7.4" fill="#333333" textLength="7.56" lengthAdjust="spacingAndGlyphs">15</text>
<text x="147.95" y="276.20" font-size="7.4" fill="#333333" textLength="7.56" lengthAdjust="spacingAndGlyphs">20</text>
<text x="181.39" y="276.20" font-size="7.4" fill="#333333" textLength="7.56" lengthAdjust="spacingAndGlyphs">25</text>
<text x="214.82" y="276.20" font-size="7.4" fill="#333333" textLength="7.56" lengthAdjust="spacingAndGlyphs">30</text>
<text x="11.52" y="270.30" font-size="7.4" fill="#333333" textLength="3.78" lengthAdjust="spacingAndGlyphs">0</text>
<text x="11.52" y="245.78" font-size="7.4" fill="#333333" textLength="3.78" lengthAdjust="spacingAndGlyphs">2</text>
<text x="11.52" y="221.25" font-size="7.4" fill="#333333" textLength="3.78" lengthAdjust="spacingAndGlyphs">4</text>
<text x="11.52" y="196.72" font-size="7.4" fill="#333333" textLength="3.78" lengthAdjust="spacingAndGlyphs">6</text>
<text x="11.52" y="172.20" font-size="7.4" fill="#333333" textLength="3.78" lengthAdjust="spacingAndGlyphs">8</text>
<text x="105.25" y="285.70" font-size="7.8" fill="#333333" textLength="25.5" lengthAdjust="spacingAndGlyphs">Epochs</text>
<text transform="translate(10.20,217.40) rotate(-90)" x="-25.5" y="0" font-size="8.2" fill="#333333" textLength="51" lengthAdjust="spacingAndGlyphs">Loss/Accuracy</text>
<text x="227.20" y="184.14" font-size="7.05" fill="#333333" textLength="43.88" lengthAdjust="spacingAndGlyphs">AN: Train loss</text>
<text x="227.20" y="192.94" font-size="7.05" fill="#333333" textLength="37.87" lengthAdjust="spacingAndGlyphs">AN: Val loss</text>
<text x="227.20" y="201.74" font-size="7.05" fill="#333333" textLength="45.05" lengthAdjust="spacingAndGlyphs">HM: Train loss</text>
<text x="227.20" y="210.54" font-size="7.05" fill="#333333" textLength="39.04" lengthAdjust="spacingAndGlyphs">HM: Val loss</text>
<text x="227.20" y="219.34" font-size="7.05" fill="#333333" textLength="44.27" lengthAdjust="spacingAndGlyphs">NN: Train loss</text>
<text x="227.20" y="228.14" font-size="7.05" fill="#333333" textLength="38.26" lengthAdjust="spacingAndGlyphs">NN: Val loss</text>
<text x="227.20" y="236.94" font-size="7.05" fill="#333333" textLength="43.10" lengthAdjust="spacingAndGlyphs">ZS: Train loss</text>
<text x="227.20" y="245.74" font-size="7.05" fill="#333333" textLength="37.09" lengthAdjust="spacingAndGlyphs">ZS: Val loss</text>
<text x="293.71" y="276.90" font-size="7.4" fill="#333333" textLength="3.78" lengthAdjust="spacingAndGlyphs">0</text>
<text x="334.83" y="276.90" font-size="7.4" fill="#333333" textLength="3.78" lengthAdjust="spacingAndGlyphs">5</text>
<text x="374.05" y="276.90" font-size="7.4" fill="#333333" textLength="7.56" lengthAdjust="spacingAndGlyphs">10</text>
<text x="415.17" y="276.90" font-size="7.4" fill="#333333" textLength="7.56" lengthAdjust="spacingAndGlyphs">15</text>
<text x="456.29" y="276.90" font-size="7.4" fill="#333333" textLength="7.56" lengthAdjust="spacingAndGlyphs">20</text>
<text x="497.40" y="276.90" font-size="7.4" fill="#333333" textLength="7.56" lengthAdjust="spacingAndGlyphs">25</text>
<text x="538.52" y="276.90" font-size="7.4" fill="#333333" textLength="7.56" lengthAdjust="spacingAndGlyphs">30</text>
<text x="289.12" y="271.00" font-size="7.4" fill="#333333" textLength="3.78" lengthAdjust="spacingAndGlyphs">0</text>
<text x="283.45" y="254.25" font-size="7.4" fill="#333333" textLength="9.45" lengthAdjust="spacingAndGlyphs">0.5</text>
<text x="289.12" y="237.50" font-size="7.4" fill="#333333" textLength="3.78" lengthAdjust="spacingAndGlyphs">1</text>
<text x="283.45" y="220.75" font-size="7.4" fill="#333333" textLength="9.45" lengthAdjust="spacingAndGlyphs">1.5</text>
<text x="289.12" y="204.00" font-size="7.4" fill="#333333" textLength="3.78" lengthAdjust="spacingAndGlyphs">2</text>
<text x="283.45" y="187.25" font-size="7.4" fill="#333333" textLength="9.45" lengthAdjust="spacingAndGlyphs">2.5</text>
<text x="289.12" y="170.50" font-size="7.4" fill="#333333" textLength="3.78" lengthAdjust="spacingAndGlyphs">3</text>
<text x="405.90" y="286.40" font-size="7.8" fill="#333333" textLength="25.5" lengthAdjust="spacingAndGlyphs">Epochs</text>
<text transform="translate(281.90,217.70) rotate(-90)" x="-25.5" y="0" font-size="8.2" fill="#333333" textLength="51" lengthAdjust="spacingAndGlyphs">Loss/Accuracy</text>
<text x="496.20" y="174.24" font-size="7.05" fill="#333333" textLength="43.88" lengthAdjust="spacingAndGlyphs">AN: Train loss</text>
<text x="496.20" y="183.15" font-size="7.05" fill="#333333" textLength="37.87" lengthAdjust="spacingAndGlyphs">AN: Val loss</text>
<text x="496.20" y="192.06" font-size="7.05" fill="#333333" textLength="43.22" lengthAdjust="spacingAndGlyphs">HM:Train loss</text>
<text x="496.20" y="200.97" font-size="7.05" fill="#333333" textLength="39.04" lengthAdjust="spacingAndGlyphs">HM: Val loss</text>
<text x="496.20" y="209.88" font-size="7.05" fill="#333333" textLength="44.27" lengthAdjust="spacingAndGlyphs">NN: Train loss</text>
<text x="496.20" y="218.79" font-size="7.05" fill="#333333" textLength="38.26" lengthAdjust="spacingAndGlyphs">NN: Val loss</text>
<text x="496.20" y="227.70" font-size="7.05" fill="#333333" textLength="43.10" lengthAdjust="spacingAndGlyphs">ZS: Train loss</text>
<text x="496.20" y="236.61" font-size="7.05" fill="#333333" textLength="37.09" lengthAdjust="spacingAndGlyphs">ZS: Val loss</text>
<text x="65.80" y="146.40" font-family='"Liberation Serif", serif' font-size="9.9" fill="#1a1a1a" style="stroke:none" textLength="144.60" lengthAdjust="spacingAndGlyphs">(<tspan font-weight="bold">a</tspan>) More representative species</text>
<text x="319.20" y="146.40" font-family='"Liberation Serif", serif' font-size="9.9" fill="#1a1a1a" style="stroke:none" textLength="183.50" lengthAdjust="spacingAndGlyphs">(<tspan font-weight="bold">b</tspan>) Easy and less representative species</text>
<text x="38.90" y="304.00" font-family='"Liberation Serif", serif' font-size="9.9" fill="#1a1a1a" style="stroke:none" textLength="198.30" lengthAdjust="spacingAndGlyphs">(<tspan font-weight="bold">c</tspan>) Difficult and less representative species</text>
<text x="278.30" y="303.80" font-family='"Liberation Serif", serif' font-size="9.9" fill="#1a1a1a" style="stroke:none" textLength="265.30" lengthAdjust="spacingAndGlyphs">(<tspan font-weight="bold">d</tspan>) Difficult and less representative species after targeted</text>
<text x="367.4" y="319.1" font-family='"Liberation Serif", serif' font-size="9.9" fill="#1a1a1a" style="stroke:none" textLength="87.1" lengthAdjust="spacingAndGlyphs">data augmentation</text>
</svg>
</div>
</body></html>
